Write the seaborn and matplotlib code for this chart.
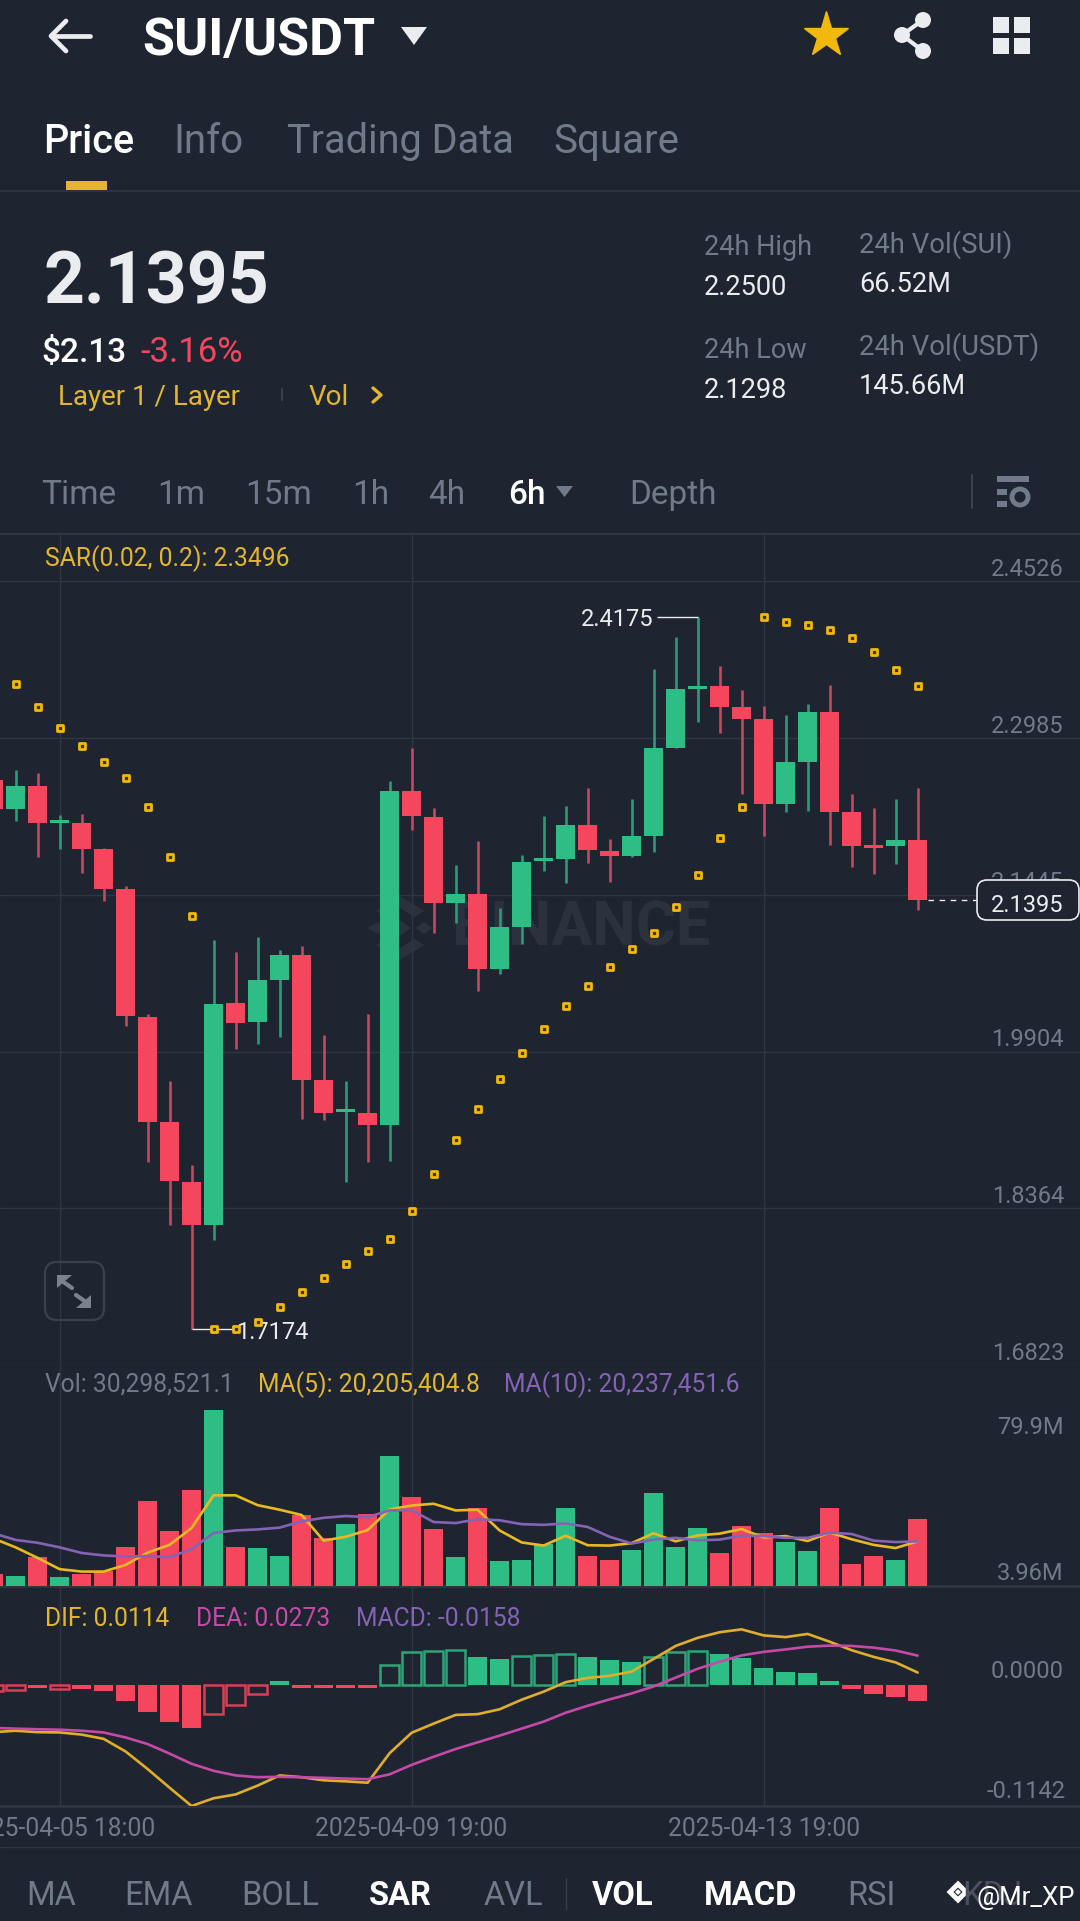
import numpy as np
import pandas as pd
import matplotlib
matplotlib.use("Agg")
import matplotlib.pyplot as plt
from matplotlib.patches import FancyBboxPatch, Polygon, Rectangle, Circle
import seaborn as sns

# candles
opens = [2.2576, 2.2294, 2.2518, 2.2155, 2.2155, 2.1900, 2.1500, 2.0248, 1.9209, 1.8623, 1.8203,
         2.0381, 2.0195, 2.0610, 2.0850, 1.9625, 1.9311, 1.9305, 1.9183, 2.2470, 2.2214, 2.1362,
         2.1458, 2.0717, 2.1127, 2.1777, 2.1798, 2.2129, 2.1878, 2.1830, 2.2027, 2.2890, 2.3471,
         2.3498, 2.3290, 2.3178, 2.2336, 2.2752, 2.3247, 2.2257, 2.1921, 2.1921, 2.1985]
closes = [2.2289, 2.2518, 2.2150, 2.2171, 2.1900, 2.1505, 2.0254, 1.9215, 1.8629, 1.8197, 2.0376,
          2.0190, 2.0610, 2.0850, 1.9625, 1.9305, 1.9327, 1.9183, 2.2470, 2.2219, 2.1362, 2.1458,
          2.0717, 2.1127, 2.1772, 2.1793, 2.2129, 2.1884, 2.1825, 2.2022, 2.2890, 2.3466, 2.3498,
          2.3290, 2.3178, 2.2336, 2.2752, 2.3247, 2.2257, 2.1926, 2.1905, 2.1985, 2.1395]
highs = [2.2688, 2.2672, 2.2640, 2.2235, 2.2241, 2.1910, 2.1537, 2.0270, 1.9620, 1.8794, 2.0999,
         2.0882, 2.1026, 2.0903, 2.0941, 2.0072, 1.9620, 2.0270, 2.2566, 2.2885, 2.2299, 2.1740,
         2.1974, 2.1314, 2.1836, 2.2219, 2.2320, 2.2496, 2.1996, 2.2390, 2.3668, 2.3983, 2.4175,
         2.3695, 2.3455, 2.3301, 2.3210, 2.3317, 2.3508, 2.2438, 2.2299, 2.2384, 2.2496]
lows = [2.2209, 2.2171, 2.1814, 2.1894, 2.1660, 2.1383, 2.0158, 1.8820, 1.8197, 1.7174, 1.8053,
        1.9934, 1.9977, 2.0051, 1.9241, 1.9236, 1.8618, 1.8815, 1.8826, 2.2086, 2.1069, 2.1165,
        2.0504, 2.0669, 2.0962, 2.1676, 2.1559, 2.1756, 2.1575, 2.1820, 2.1868, 2.2890, 2.3146,
        2.3040, 2.2438, 2.2027, 2.2262, 2.2273, 2.1932, 2.1719, 2.1649, 2.1745, 2.1292]
sar = [2.3514, 2.3290, 2.3088, 2.2906, 2.2747, 2.2597, 2.2310, 2.1820, 2.1239, 1.7174, 1.7174,
       1.7244, 1.7393, 1.7542, 1.7681, 1.7814, 1.7942, 1.8064, 1.8336, 1.8698, 1.9034, 1.9343,
       1.9630, 1.9891, 2.0131, 2.0349, 2.0552, 2.0738, 2.0909, 2.1069, 2.1330, 2.1644, 2.2001,
       2.2305, 2.4180, 2.4132, 2.4094, 2.4052, 2.3967, 2.3828, 2.3658, 2.3496]

# volume in millions
volume = [5.57, 4.62, 13.21, 4.14, 5.25, 6.85, 17.83, 38.53, 24.99, 43.46, 79.92, 17.51, 17.03,
          13.53, 32.0, 21.81, 28.02, 32.80, 59.06, 40.44, 25.79, 13.05, 35.34, 11.46, 11.78, 19.1,
          35.18, 13.37, 11.78, 16.4, 42.35, 17.51, 26.27, 14.96, 27.22, 24.04, 19.74, 15.92, 35.5,
          10.19, 13.37, 11.94, 30.30]
ma5 = [21.49, 17.51, 12.74, 7.64, 6.53, 6.53, 9.55, 15.12, 18.63, 26.27, 41.07, 41.07, 36.62,
       34.55, 32.16, 20.54, 22.29, 25.31, 34.71, 36.46, 37.25, 34.23, 34.55, 25.15, 19.74, 18.31,
       22.77, 18.47, 18.31, 19.42, 23.88, 20.22, 22.92, 23.72, 25.79, 21.97, 22.61, 20.38, 24.2,
       21.17, 18.63, 17.19, 20.21]
ma10 = [23.88, 20.86, 19.58, 17.51, 14.96, 13.85, 13.37, 13.53, 13.05, 16.72, 24.04, 25.15, 25.63,
        26.43, 29.29, 30.88, 31.68, 31.2, 34.23, 34.39, 28.97, 28.5, 30.25, 29.77, 28.02, 27.7,
        28.34, 26.75, 22.29, 19.26, 21.01, 21.81, 20.7, 21.01, 22.77, 22.61, 21.81, 21.81, 24.2,
        23.56, 20.54, 19.9, 20.24]

# macd panel
macd_hist = [-0.0060, -0.0046, -0.0036, -0.0043, -0.0043, -0.0060, -0.0152, -0.0262, -0.0348,
             -0.0407, -0.0281, -0.0189, -0.0086, 0.0036, -0.0030, -0.0030, -0.0030, -0.0030,
             0.0189, 0.0308, 0.0321, 0.0324, 0.0258, 0.0242, 0.0265, 0.0275, 0.0288, 0.0258,
             0.0232, 0.0215, 0.0258, 0.0305, 0.0314, 0.0288, 0.0248, 0.0159, 0.0116, 0.0113,
             0.0036, -0.0040, -0.0086, -0.0113, -0.0158]
hist_hollow = [0, 1, 3, 10, 11, 12, 18, 19, 20, 21, 24, 25, 26, 30, 31, 32]
dif = [-0.0447, -0.0434, -0.0447, -0.0450, -0.0470, -0.0510, -0.0629, -0.0794, -0.0970, -0.1142,
       -0.1069, -0.1033, -0.0950, -0.0854, -0.0871, -0.0900, -0.0910, -0.0923, -0.0645, -0.0453,
       -0.0367, -0.0285, -0.0278, -0.0232, -0.0142, -0.0066, 0.0023, 0.0063, 0.0083, 0.0122,
       0.0242, 0.0364, 0.0440, 0.0493, 0.0520, 0.0463, 0.0447, 0.0477, 0.0404, 0.0324, 0.0261,
       0.0209, 0.0114]
dea = [-0.0407, -0.0414, -0.0420, -0.0424, -0.0434, -0.0450, -0.0497, -0.0559, -0.0649, -0.0745,
       -0.0811, -0.0854, -0.0871, -0.0867, -0.0871, -0.0877, -0.0884, -0.0890, -0.0844, -0.0755,
       -0.0679, -0.0606, -0.0543, -0.0480, -0.0414, -0.0348, -0.0265, -0.0199, -0.0139, -0.0083,
       -0.0017, 0.0066, 0.0149, 0.0215, 0.0275, 0.0308, 0.0331, 0.0357, 0.0367, 0.0364, 0.0348,
       0.0321, 0.0273]

price_ticks = [2.4526, 2.2985, 2.1445, 1.9904, 1.8364, 1.6823]
date_ticks = {3: "2025-04-05 18:00", 19: "2025-04-09 19:00", 35: "2025-04-13 19:00"}

BG = "#1e2530"
GRID = "#2f3641"
GREEN = "#2ebd85"
RED = "#f6465d"
GREEN_W = "#2a9d78"
RED_W = "#c9475f"
YEL = "#f0b90b"
YEL_T = "#e3b62f"
GRAY = "#848e9c"
GRAY_D = "#707a8a"
WHITE = "#eaecef"
PURPLE = "#8463b5"
PINK = "#c54aa8"

W, H = 1080, 1921
XLIM = (0.291, 49.38)
AXIS_SIZE = 17
LEGEND_SIZE = 17.7

sns.set_theme(style="dark", rc={"figure.facecolor": BG, "axes.facecolor": BG, "axes.grid": False,
                                "patch.linewidth": 0})
plt.rcParams["font.family"] = ["Roboto", "DejaVu Sans"]

idx = np.arange(len(closes))
df = pd.DataFrame({"i": idx, "open": opens, "close": closes, "high": highs, "low": lows,
                   "vol": volume, "ma5": ma5, "ma10": ma10, "hist": macd_hist, "dif": dif, "dea": dea})
df["up"] = df["close"] >= df["open"]
df["dir"] = np.where(df["up"], "up", "down")

fig = plt.figure(figsize=(W / 100, H / 100), dpi=100, facecolor=BG)


def panel(top, bottom):
    ax = fig.add_axes([0, 1 - bottom / H, 1, (bottom - top) / H], zorder=5)
    ax.patch.set_visible(False)
    ax.set_xlim(*XLIM)
    ax.set_xticks([])
    ax.set_yticks([])
    ax.set_xlabel("")
    ax.set_ylabel("")
    for s in ax.spines.values():
        s.set_visible(False)
    return ax


def right_label(ax, txt, y, dy, color=GRAY_D, size=AXIS_SIZE, dx=-16):
    ax.annotate(txt, xy=(1, y), xycoords=("axes fraction", "data"), xytext=(dx, dy),
                textcoords="offset pixels", ha="right", va="center", color=color, fontsize=size, zorder=3)


# layers behind and above the charts, both in screen pixels
back = fig.add_axes([0, 0, 1, 1], zorder=1)
ui = fig.add_axes([0, 0, 1, 1], zorder=20)
for a in (back, ui):
    a.set_xlim(0, W)
    a.set_ylim(H, 0)
    a.axis("off")
    a.patch.set_visible(False)


def T(x, y, s, size, color=WHITE, weight="normal", ha="left", va="baseline", ax=ui):
    ax.text(x, y, s, fontsize=size, color=color, fontweight=weight, ha=ha, va=va)


# price panel
main = panel(535, 1365)
main.set_ylim(1.6823, 2.4983)
for p in price_ticks:
    main.axhline(p, color=GRID, lw=1, zorder=0)
    right_label(main, f"{p:.4f}", p, 12)
for i in date_ticks:
    main.axvline(i, color=GRID, lw=1, zorder=0)

wick_col = [GREEN_W if u else RED_W for u in df["up"]]
body_col = [GREEN if u else RED for u in df["up"]]
main.vlines(df["i"], df["low"], df["high"], colors=wick_col, lw=1.9, zorder=2)
main.bar(df["i"], np.maximum((df["close"] - df["open"]).abs(), 0.0026),
         bottom=df[["open", "close"]].min(axis=1), width=0.875, color=body_col, lw=0, zorder=2.5)

sns.scatterplot(x=idx[1:], y=sar, ax=main, marker="s", s=17, facecolor="#3a3416", edgecolor=YEL,
                linewidth=2.0, zorder=4, legend=False)
main.set_xlim(*XLIM)
main.set_ylim(1.6823, 2.4983)

main.hlines(highs[32], 30.15, 32, colors=WHITE, lw=1, zorder=3)
main.annotate("2.4175", xy=(32, highs[32]), xytext=(-44, -2), textcoords="offset pixels", ha="right",
              va="center", color=WHITE, fontsize=AXIS_SIZE, zorder=3)
main.hlines(lows[9], 9, 10.93, colors=WHITE, lw=1, zorder=3)
main.annotate("1.7174", xy=(9, lows[9]), xytext=(44, -3), textcoords="offset pixels", ha="left",
              va="center", color=WHITE, fontsize=AXIS_SIZE, zorder=3)
main.hlines(closes[-1], 42.45, 44.7, colors=WHITE, linestyles=(0, (4, 4)), lw=1, zorder=3)

# volume panel
vol_ax = panel(1365, 1586)
sns.barplot(data=df, x="i", y="vol", hue="dir", palette={"up": GREEN, "down": RED}, native_scale=True,
            dodge=False, width=0.875, saturation=1, legend=False, ax=vol_ax, zorder=2)
sns.lineplot(data=df, x="i", y="ma5", color="#e8b923", lw=1.9, ax=vol_ax, zorder=3, errorbar=None)
sns.lineplot(data=df, x="i", y="ma10", color=PURPLE, lw=1.9, ax=vol_ax, zorder=4, errorbar=None)
vol_ax.set_xlim(*XLIM)
vol_ax.set_ylim(0, 100.1)
vol_ax.set_xticks([])
vol_ax.set_yticks([])
vol_ax.set_xlabel("")
vol_ax.set_ylabel("")
vol_ax.axhline(0, color=GRID, lw=2, clip_on=False, zorder=1)
for i in date_ticks:
    vol_ax.axvline(i, color=GRID, lw=1, zorder=0)
right_label(vol_ax, "79.9M", 79.9, -18)
right_label(vol_ax, "3.96M", 0, 12)

# macd panel
macd_ax = panel(1586, 1806)
macd_ax.set_ylim(-0.1142, 0.0928)
for i, h in zip(idx, macd_hist):
    col = GREEN if h > 0 else RED
    if i in hist_hollow:
        macd_ax.bar(i, h, width=0.84, fill=False, edgecolor=col, lw=1.8, alpha=0.85, zorder=2)
    else:
        macd_ax.bar(i, h, width=0.875, color=col, lw=0, zorder=2)
sns.lineplot(data=df, x="i", y="dif", color="#e0ae2a", lw=1.9, ax=macd_ax, zorder=3, errorbar=None)
sns.lineplot(data=df, x="i", y="dea", color=PINK, lw=1.9, ax=macd_ax, zorder=4, errorbar=None)
macd_ax.set_xlim(*XLIM)
macd_ax.set_ylim(-0.1142, 0.0928)
macd_ax.set_xlabel("")
macd_ax.set_ylabel("")
macd_ax.axhline(-0.1142, color=GRID, lw=2, clip_on=False, zorder=1)
for i, lbl in date_ticks.items():
    macd_ax.axvline(i, color=GRID, lw=1, zorder=0)
    macd_ax.annotate(lbl, xy=(i, 0), xycoords=("data", "axes fraction"), xytext=(0, -23),
                     textcoords="offset pixels", ha="center", va="center", color=GRAY_D, fontsize=LEGEND_SIZE)
right_label(macd_ax, "0.0000", 0, 13)
right_label(macd_ax, "-0.1142", -0.1142, 14, dx=-14)

# chart legends
T(45, 559, "SAR(0.02, 0.2): 2.3496", LEGEND_SIZE, YEL_T, va="center")
T(45, 1384.5, "Vol: 30,298,521.1", LEGEND_SIZE, GRAY_D, va="center")
T(258, 1384.5, "MA(5): 20,205,404.8", LEGEND_SIZE, YEL_T, va="center")
T(504.5, 1384.5, "MA(10): 20,237,451.6", LEGEND_SIZE, PURPLE, va="center")
T(45, 1619, "DIF: 0.0114", LEGEND_SIZE, YEL_T, va="center")
T(195.6, 1619, "DEA: 0.0273", LEGEND_SIZE, PINK, va="center")
T(355.7, 1619, "MACD: -0.0158", LEGEND_SIZE, PURPLE, va="center")

# last price tag
ui.add_patch(FancyBboxPatch((977, 880), 102, 40, boxstyle="round,pad=0,rounding_size=10", fc=BG, ec=WHITE, lw=1.2))
T(1064, 906, "2.1395", AXIS_SIZE, WHITE, ha="right", va="center")

# watermark
wm = "#2b323d"
back.text(451, 928, "BINANCE", fontsize=44, fontweight="bold", color=wm, va="center", ha="left")
for pts in ([(368, 928), (378, 922), (388, 928), (378, 934)],
            [(400, 896), (424, 911), (414, 917), (400, 908), (386, 917), (376, 911)],
            [(400, 960), (424, 945), (414, 939), (400, 948), (386, 939), (376, 945)],
            [(400, 920), (411, 928), (400, 936), (389, 928)],
            [(416, 928), (424, 922), (432, 928), (424, 934)]):
    back.add_patch(Polygon(pts, closed=True, fc=wm, ec="none"))

# expand button
ui.add_patch(FancyBboxPatch((45, 1262), 59, 58, boxstyle="round,pad=0,rounding_size=12", fc="none", ec="#3a414c", lw=1.6))
ui.add_patch(Polygon([(57, 1275), (72, 1275), (57, 1288)], fc="#7b828d", ec="none"))
ui.add_patch(Polygon([(91, 1308), (76, 1308), (91, 1295)], fc="#7b828d", ec="none"))
ui.plot([62, 72], [1281, 1288], color="#7b828d", lw=3)
ui.plot([76, 86], [1295, 1302], color="#7b828d", lw=3)

# header
ui.plot([52, 90], [36, 36], color=WHITE, lw=3.4, solid_capstyle="round")
ui.plot([66, 51, 66], [21, 36, 51], color=WHITE, lw=3.4, solid_capstyle="round", solid_joinstyle="round")
T(142, 55, "SUI/USDT", 37.5, "#ffffff", "bold")
ui.add_patch(Polygon([(401, 27), (427, 27), (414, 45)], fc=WHITE, ec="none"))
ui.plot([826], [35], marker="*", ms=34, color=YEL, mec=YEL, lw=0)
for c in [(923, 20), (923, 51), (902, 35)]:
    ui.add_patch(Circle(c, 8, fc=WHITE, ec="none"))
ui.plot([923, 902, 923], [20, 35, 51], color=WHITE, lw=3)
for x0, y0 in [(993, 17), (1014, 17), (993, 38), (1014, 38)]:
    ui.add_patch(Rectangle((x0, y0), 16, 16, fc=WHITE, ec="none"))

T(43, 153, "Price", 28.5, "#ffffff", "medium")
T(173, 153, "Info", 29, GRAY_D)
T(287, 153, "Trading Data", 28.5, GRAY_D)
T(553, 153, "Square", 29, GRAY_D)
ui.add_patch(Rectangle((66, 181), 41, 9, fc=YEL_T, ec="none"))
ui.plot([0, W], [190.5, 190.5], color=GRID, lw=1.2)

T(43, 303, "2.1395", 51.5, WHITE, "bold")
T(41, 362, "$2.13", 24, "#ffffff", "medium")
T(140, 362, "-3.16%", 25, RED)
T(58, 405, "Layer 1 / Layer", 20, YEL_T)
ui.plot([282, 282], [389, 400], color="#3a414c", lw=1.5)
T(309, 405, "Vol", 20, YEL_T)
ui.plot([373, 381, 373], [388, 395, 402], color=YEL_T, lw=2.4)

T(704, 255, "24h High", 19.5, GRAY_D)
T(704, 295, "2.2500", 19.5, WHITE)
T(704, 358, "24h Low", 19.5, GRAY_D)
T(704, 398, "2.1298", 19.5, WHITE)
T(859, 253, "24h Vol(SUI)", 19.8, GRAY_D)
T(859, 292, "66.52M", 19.5, WHITE)
T(859, 355, "24h Vol(USDT)", 19.8, GRAY_D)
T(859, 394, "145.66M", 19.5, WHITE)

for x, s in [(41, "Time"), (157, "1m"), (245, "15m"), (352, "1h"), (428, "4h"), (629, "Depth")]:
    T(x, 504, s, 24, GRAY_D)
T(508, 504, "6h", 24, "#ffffff", "medium")
ui.add_patch(Polygon([(556, 486), (573, 486), (564.5, 497)], fc=GRAY_D, ec="none"))
ui.plot([972, 972], [475, 508], color="#3a414c", lw=1.5)
ui.add_patch(Rectangle((997, 476), 32, 6, fc=GRAY_D, ec="none"))
ui.add_patch(Rectangle((997, 489), 10, 6, fc=GRAY_D, ec="none"))
ui.add_patch(Rectangle((997, 501), 10, 6, fc=GRAY_D, ec="none"))
ui.add_patch(Circle((1020, 497), 8, fc=BG, ec=GRAY_D, lw=3.5))
ui.plot([0, W], [534, 534], color=GRID, lw=1.6)

# bottom tabs
ui.plot([0, W], [1847, 1847], color=GRID, lw=1)
for x, s in [(26, "MA"), (124, "EMA"), (241, "BOLL"), (484, "AVL"), (847, "RSI")]:
    T(x, 1905, s, 23.5, GRAY_D)
T(369, 1905, "SAR", 23.5, "#ffffff", "bold")
T(592, 1905, "VOL", 23.5, "#ffffff", "bold")
T(704, 1905, "MACD", 23.5, "#ffffff", "bold")
ui.plot([565.5, 565.5], [1878, 1909], color="#3a414c", lw=1)
T(962, 1905, "KDJ", 23.5, "#4b525d")
T(977, 1905, "@Mr_XP", 18.5, "#ffffff")
ui.add_patch(Polygon([(958, 1884), (966, 1892), (958, 1900), (950, 1892)], fc="none", ec="#ffffff", lw=3.5))
ui.add_patch(Polygon([(958, 1889), (961, 1892), (958, 1895), (955, 1892)], fc="#ffffff", ec="none"))

fig.savefig("out.png", dpi=100, facecolor=BG)
